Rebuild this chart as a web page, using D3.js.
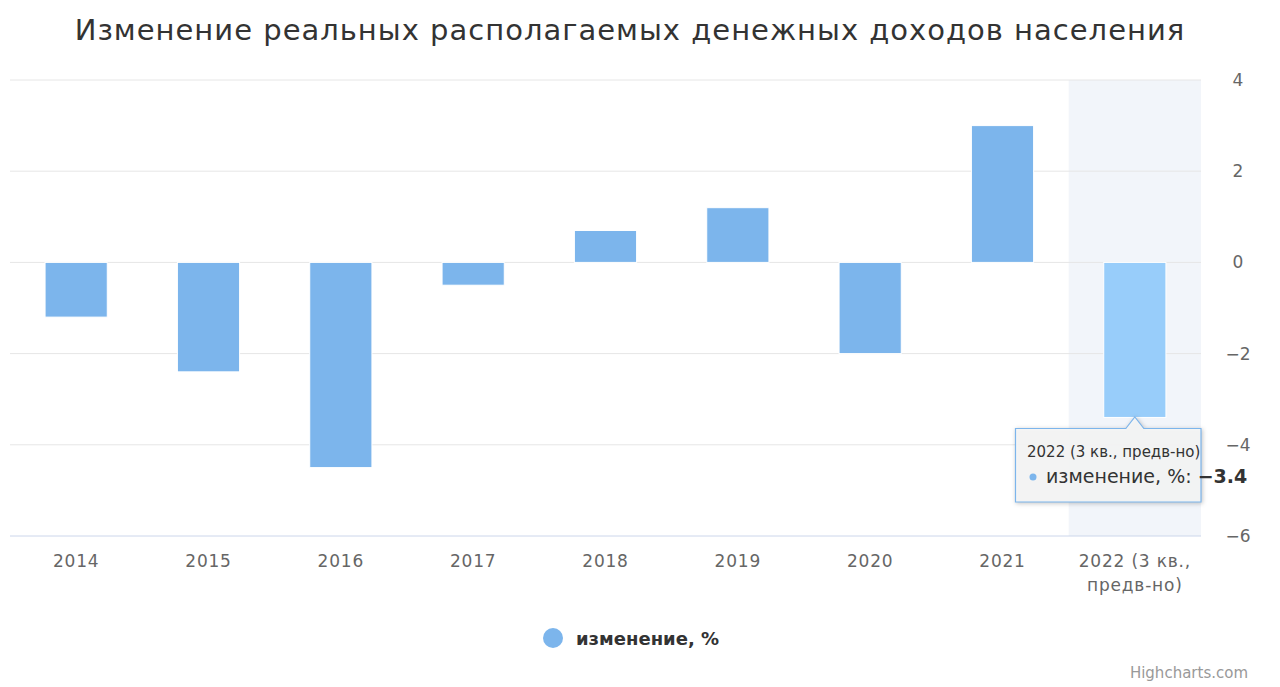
<!DOCTYPE html>
<html><head><meta charset="utf-8">
<script src="https://cdn.jsdelivr.net/npm/d3@7"></script>
<style>body{margin:0;background:#fff}svg{font-family:"Lucida Grande","DejaVu Sans",sans-serif}</style>
</head><body><svg id="c" width="1280" height="687"></svg>
<script>
const categories=["2014","2015","2016","2017","2018","2019","2020","2021","2022 (3 кв., предв-но)"];
const values=[-1.2,-2.4,-4.5,-0.5,0.7,1.2,-2.0,3.0,-3.4];
const yTicks=[4,2,0,-2,-4,-6];
const svg=d3.select("#c");
const L=10,R=1201,T=80,B=536;
const x=d3.scaleBand().domain(categories).range([L,R]).paddingInner(0.53).paddingOuter(0.265);
const xb=d3.scaleBand().domain(categories).range([L,R]);
const y=d3.scaleLinear().domain([-6,4]).range([B,T]);
svg.append("text").attr("x",630).attr("y",40).attr("text-anchor","middle").attr("font-size",29).attr("fill","#333").attr("letter-spacing",1).text("Изменение реальных располагаемых денежных доходов населения");
// highlight band
svg.append("rect").attr("x",xb(categories[8])).attr("y",T).attr("width",xb.bandwidth()).attr("height",B-T).attr("fill","#ccd6eb").attr("opacity",0.25);
yTicks.forEach(t=>{
 svg.append("line").attr("x1",L).attr("x2",R).attr("y1",y(t)).attr("y2",y(t)).attr("stroke",t==-6?"#ccd6eb":"#e6e6e6");
 svg.append("text").attr("x",1238).attr("y",y(t)+6).attr("text-anchor","middle").attr("font-size",17).attr("fill","#666").text(t<0?"−"+(-t):t);
});
values.forEach((v,i)=>{
 svg.append("rect").attr("x",x(categories[i])).attr("width",x.bandwidth())
 .attr("y",y(Math.max(0,v))).attr("height",Math.abs(y(v)-y(0)))
 .attr("fill",i==8?"#98cdfa":"#7cb5ec").attr("stroke","#fff").attr("stroke-width",1);
});
categories.forEach((c,i)=>{
 const cx=xb(c)+xb.bandwidth()/2;
 const t=svg.append("text").attr("x",cx).attr("y",567).attr("text-anchor","middle").attr("font-size",17).attr("fill","#666").attr("letter-spacing",0.8);
 if(i==8){t.append("tspan").attr("x",cx).text("2022 (3 кв.,");t.append("tspan").attr("x",cx).attr("dy",24).text("предв-но)");}
 else t.text(c);
});
// legend
svg.append("circle").attr("cx",553).attr("cy",638).attr("r",10).attr("fill","#7cb5ec");
svg.append("text").attr("x",576).attr("y",645).attr("font-size",18).attr("font-weight","bold").attr("fill","#333").text("изменение, %");
svg.append("text").attr("x",1248).attr("y",678).attr("text-anchor","end").attr("font-size",15).attr("fill","#999").text("Highcharts.com");
// tooltip
const tx=1015,ty=428,tw=186,th=74,px=x(categories[8])+x.bandwidth()/2;
svg.append("path").attr("d",`M${tx+0.5},${ty+0.5}H${px-9}L${px},${ty-11}L${px+9},${ty+0.5}H${tx+tw}V${ty+th}H${tx+0.5}Z`)
 .attr("fill","rgba(247,247,247,0.9)").attr("stroke","#7cb5ec").attr("stroke-width",1.2).style("filter","drop-shadow(1px 1px 2px rgba(0,0,0,0.25))");
svg.append("text").attr("x",tx+12).attr("y",ty+29).attr("font-size",15).attr("fill","#333").text("2022 (3 кв., предв-но)");
svg.append("circle").attr("cx",tx+18).attr("cy",ty+49).attr("r",3.5).attr("fill","#7cb5ec");
const t2=svg.append("text").attr("x",tx+31).attr("y",ty+55).attr("font-size",19).attr("fill","#333");
t2.append("tspan").text("изменение, %: ");t2.append("tspan").attr("font-weight","bold").text("−3.4");
</script></body></html>
